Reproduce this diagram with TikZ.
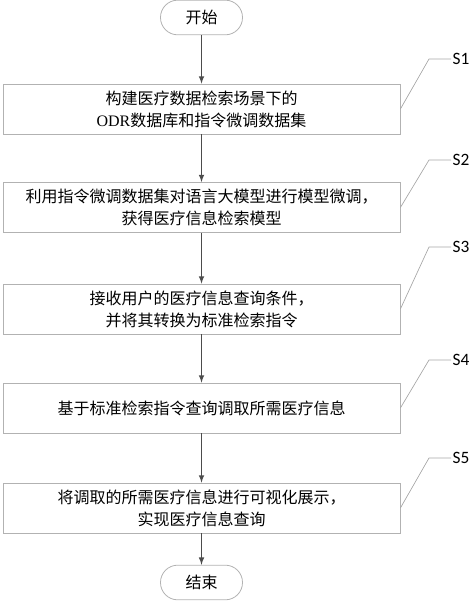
\documentclass[tikz,border=0pt]{standalone}
\usepackage{fontspec}
\setmainfont{Liberation Serif}
\newfontfamily\cjk{Noto Sans CJK SC}
\newfontfamily\lbl{Carlito}
\usetikzlibrary{positioning,calc,arrows.meta}

\begin{document}
\begin{tikzpicture}[x=0.75pt, y=-0.75pt,
  stepbox/.style={draw=black!30, line width=0.6pt, minimum width=297.75pt, minimum height=37.5pt,
    align=center, inner sep=0pt, font=\cjk\fontsize{12}{16.5}\selectfont},
  term/.style={draw=black!30, line width=0.6pt, rounded corners=12.9pt, minimum width=61.5pt,
    minimum height=26pt, inner sep=0pt, font=\cjk\fontsize{12}{14}\selectfont},
  flow/.style={draw=black!70, line width=0.9pt, ->, >=latex},
  lead/.style={draw=black!35, line width=0.5pt}]
  \useasboundingbox (0,0) rectangle (474,602);

  % Start / end
  \node[term] (start) at (201.5, 17.5) {开始};
  \node[term] (stop) at (201.5, 582.5) {结束};

  % Steps
  \node[stepbox] (b1) at (201.5, 109) {构建医疗数据检索场景下的\\{\rmfamily ODR}数据库和指令微调数据集};
  \node[stepbox] (b2) at (201.5, 207.5) {利用指令微调数据集对语言大模型进行模型微调，\\获得医疗信息检索模型};
  \node[stepbox] (b3) at (201.5, 309) {接收用户的医疗信息查询条件，\\并将其转换为标准检索指令};
  \node[stepbox] (b4) at (201.5, 408) {基于标准检索指令查询调取所需医疗信息};
  \node[stepbox] (b5) at (201.5, 508) {将调取的所需医疗信息进行可视化展示，\\实现医疗信息查询};

  % Flow arrows
  \draw[flow] (start) -- (b1);
  \draw[flow] (b1) -- (b2);
  \draw[flow] (b2) -- (b3);
  \draw[flow] (b3) -- (b4);
  \draw[flow] (b4) -- (b5);
  \draw[flow] (b5) -- (stop);

  % Step labels
  \foreach \i/\ly in {1/59, 2/160, 3/247, 4/360, 5/458} {
    \node[font=\lbl\fontsize{13}{15}\selectfont, inner sep=1pt] (s\i) at (461, \ly) {S\i};
    \draw[lead] (b\i.east) -- (429, \ly) -- (s\i.west);
  }
\end{tikzpicture}
\end{document}
